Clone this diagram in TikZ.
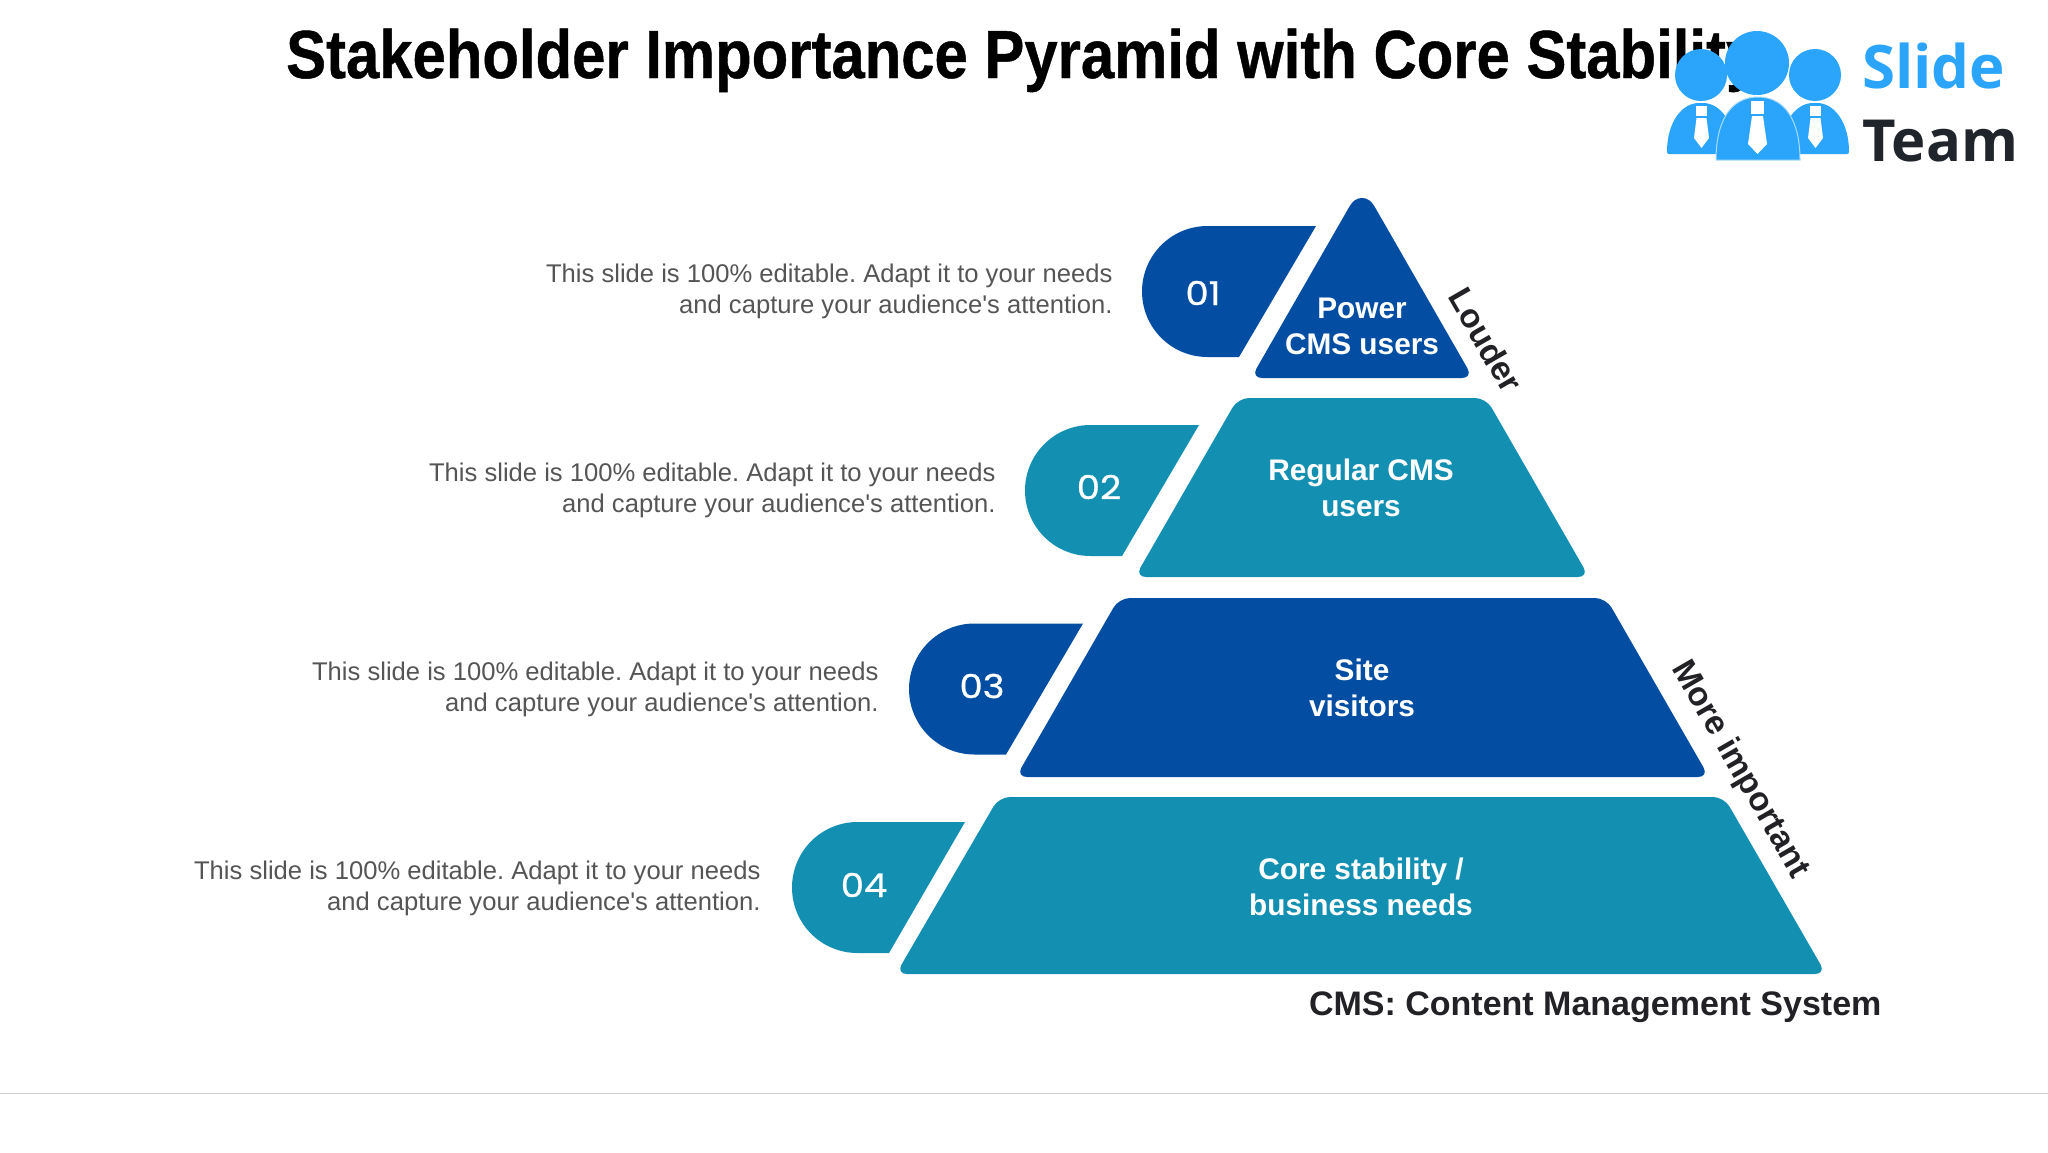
\documentclass[tikz,border=0pt]{standalone}
\usepackage{fontspec}
\setmainfont{Liberation Sans}
\newfontfamily\numfont[FakeBold=0.7]{Poppins}
\newfontfamily\titlefont[FakeBold=0.7]{Liberation Sans}
\newfontfamily\logofont{Open Sans}
\definecolor{navy}{HTML}{034EA2}
\definecolor{teal}{HTML}{1390B1}
\definecolor{desc}{HTML}{555555}
\definecolor{ink}{HTML}{222226}
\definecolor{logoblue}{HTML}{2AA5FB}
\definecolor{logodark}{HTML}{20252B}
\newcommand{\apos}{\textquotesingle}
\tikzset{
  tier/.style={rounded corners=11pt},
  tiertext/.style={text=white,font=\fontsize{29.8}{36}\selectfont\bfseries,align=center,anchor=center},
  numtext/.style={text=white,font=\fontsize{33}{36}\selectfont\numfont,anchor=center,xscale=1.12},
  desctext/.style={text=desc,font=\fontsize{25.6}{31}\selectfont\frenchspacing,align=right,anchor=east},
  sidetext/.style={text=ink,font=\fontsize{33.5}{36}\selectfont\bfseries,rotate=-60,anchor=center},
  logotext/.style={anchor=base west,inner sep=0pt,font=\fontsize{60}{66}\selectfont\logofont\bfseries},
  tie/.style={fill=white}
}
\begin{document}
\begin{tikzpicture}[x=1pt,y=-1pt]
\useasboundingbox (0,0) rectangle (2048,1152);
\fill[white] (0,0) rectangle (2048,1152);
\node[anchor=base west,inner sep=0pt,xscale=0.88,font=\fontsize{68}{72}\selectfont\titlefont\bfseries,text=black] (title) at (286,78) {Stakeholder Importance Pyramid with Core Stability};
% tabs
\fill[navy] (1207.5,226) -- (1316,226) -- (1239,357) -- (1207.5,357) arc[start angle=90,end angle=270,radius=65.5] -- cycle;
\fill[teal] (1090.5,425) -- (1199,425) -- (1122,556) -- (1090.5,556) arc[start angle=90,end angle=270,radius=65.5] -- cycle;
\fill[navy] (974.5,623.5) -- (1083,623.5) -- (1006,754.5) -- (974.5,754.5) arc[start angle=90,end angle=270,radius=65.5] -- cycle;
\fill[teal] (857.5,822) -- (965,822) -- (889,953) -- (857.5,953) arc[start angle=90,end angle=270,radius=65.5] -- cycle;
% tiers
\fill[navy] (1362,378) [rounded corners=11pt] -- (1473,378) [sharp corners] -- (1376,209) .. controls (1371,200) and (1367,198) .. (1362,198) .. controls (1357,198) and (1353,200) .. (1348,209) [rounded corners=11pt] -- (1251,378) [sharp corners] -- cycle;
\fill[teal,tier] (1238,398) -- (1486,398) -- (1589,577) -- (1135,577) -- cycle;
\fill[navy,tier] (1119,598) -- (1606,598) -- (1709,777) -- (1016,777) -- cycle;
\fill[teal,tier] (999,797) -- (1724,797) -- (1826,974) -- (896,974) -- cycle;
% numbers
\node[numtext] (n1) at (1203,293) {01};
\node[numtext] (n2) at (1099,487) {02};
\node[numtext] (n3) at (982,686) {03};
\node[numtext] (n4) at (864,885) {04};
% tier labels
\node[tiertext] (t1) at (1362,326) {Power\\CMS users};
\node[tiertext] (t2) at (1361,488) {Regular CMS\\users};
\node[tiertext] (t3) at (1362,688) {Site\\visitors};
\node[tiertext] (t4) at (1361,887) {Core stability /\\business needs};
% descriptions
\node[desctext] (d1) at (1116,291) {This slide is 100\% editable. Adapt it to your needs\\and capture your audience\apos s attention.};
\node[desctext] (d2) at (999,490) {This slide is 100\% editable. Adapt it to your needs\\and capture your audience\apos s attention.};
\node[desctext] (d3) at (882,689) {This slide is 100\% editable. Adapt it to your needs\\and capture your audience\apos s attention.};
\node[desctext] (d4) at (764,888) {This slide is 100\% editable. Adapt it to your needs\\and capture your audience\apos s attention.};
% side labels
\node[sidetext] (louder) at (1486,340) {Louder};
\node[sidetext] (more) at (1740,770) {More important};
\node[anchor=base east,text=ink,font=\fontsize{34}{40}\selectfont\bfseries] (cms) at (1885,1015) {CMS: Content Management System};
% rule
\draw[color=black!20,line width=1pt] (0,1093) -- (2048,1093);
% logo
\fill[logoblue] (1701,75) circle[radius=26];
\fill[logoblue] (1815,75) circle[radius=26];
\fill[logoblue,rounded corners=2pt] (1667,154) .. controls (1667,122) and (1682,103) .. (1701,103) .. controls (1720,103) and (1735,122) .. (1735,154) -- cycle;
\fill[logoblue,rounded corners=2pt] (1781,154) .. controls (1781,122) and (1796,103) .. (1815,103) .. controls (1834,103) and (1849,122) .. (1849,154) -- cycle;
\fill[logoblue,draw=white!60!logoblue,line width=1pt] (1716,160) .. controls (1716,122) and (1730,97) .. (1758,97) .. controls (1786,97) and (1800,122) .. (1800,160) -- cycle;
\fill[logoblue] (1757,63) circle[radius=32];
\fill[tie] (1696,106) rectangle (1707,116);
\fill[tie] (1696.5,118) -- (1706.5,118) -- (1709,138) -- (1701.5,148) -- (1694,138) -- cycle;
\fill[tie] (1810,106) rectangle (1821,116);
\fill[tie] (1810.5,118) -- (1820.5,118) -- (1823,138) -- (1815.5,148) -- (1808,138) -- cycle;
\fill[tie] (1751,101) rectangle (1764,114);
\fill[tie] (1752,116) -- (1763,116) -- (1767,144) -- (1757.5,154) -- (1748,144) -- cycle;
\node[logotext,text=logoblue] (slide) at (1862,88) {Slide};
\node[logotext,text=logodark,font=\fontsize{58}{66}\selectfont\logofont\bfseries] (team) at (1862,161) {Team};
\end{tikzpicture}
\end{document}
